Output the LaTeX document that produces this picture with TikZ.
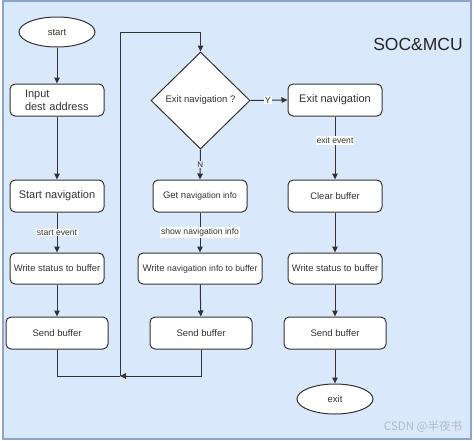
\documentclass[tikz,border=0pt]{standalone}
\usepackage{fontspec}
\setmainfont{Liberation Sans}
\newfontfamily\cjkfont{Noto Sans CJK SC}
\usetikzlibrary{shapes.geometric,arrows.meta}
\definecolor{bgblue}{HTML}{DAE8FC}
\definecolor{bgborder}{HTML}{8EA5C9}
\definecolor{ink}{HTML}{333333}
\definecolor{wmark}{HTML}{B3BAC6}
\newcommand\fsz[1]{\fontsize{#1}{#1}\selectfont}
\tikzset{
  x=1pt, y=-1pt,
  boxnode/.style={draw=ink, fill=white, rounded corners=5pt, line width=1pt,
    inner sep=0pt, text=ink, align=center},
  ovalnode/.style={draw=ink, fill=white, ellipse, line width=1pt, inner sep=0pt,
    minimum width=76pt, minimum height=30pt, text=ink, font=\fsz{9.5}},
  decnode/.style={draw=ink, fill=white, diamond, line width=1pt, inner sep=0pt,
    minimum width=99pt, minimum height=97pt, text=ink, font=\fsz{9.5}},
  conn/.style={draw=ink, line width=1pt},
  arr/.style={conn, -{Triangle[length=6pt,width=5.5pt]}},
  lbl/.style={fill=white, inner sep=1pt, text=ink, font=\fsz{8.6}},
}
\begin{document}
\begin{tikzpicture}
\useasboundingbox (0,0) rectangle (474,440);
\fill[white] (0,0) rectangle (474,440);
\draw[fill=bgblue, draw=bgborder, line width=2pt] (2.5,1) rectangle (470.5,438.5);

% left column
\node[ovalnode] (start) at (57,32) {start};
\node[boxnode, minimum width=94pt, minimum height=32pt, text width=64pt, inner xsep=15pt, align=left,
  font=\fontsize{11}{13}\selectfont] (inp) at (57,100) {Input\\dest address};
\node[boxnode, minimum width=94pt, minimum height=32pt, font=\fsz{11}] (sn) at (57,196) {Start navigation};
\node[boxnode, minimum width=94pt, minimum height=31pt, font=\fsz{9.4}] (ws1) at (57,268.5) {Write status to buffer};
\node[boxnode, minimum width=102pt, minimum height=32pt, font=\fsz{9.5}] (sb1) at (57,333) {Send buffer};

% middle column
\node[decnode] (dia) at (200.5,100.5) {Exit navigation ?};
\node[boxnode, minimum width=94pt, minimum height=32pt] (gni) at (200,196) {\fsz{9.5}Get n\fsz{8.6}avigation info};
\node[boxnode, minimum width=124pt, minimum height=31pt] (wni) at (200,268.5) {\fsz{9.5}Write \fsz{8.7}navigation info to buffer};
\node[boxnode, minimum width=102pt, minimum height=32pt, font=\fsz{9.5}] (sb2) at (201,333) {Send buffer};

% right column
\node[boxnode, minimum width=94pt, minimum height=32pt, font=\fsz{11}] (en) at (335,100) {Exit navigation};
\node[boxnode, minimum width=94pt, minimum height=32pt, font=\fsz{9.5}] (cb) at (335,196) {Clear buffer};
\node[boxnode, minimum width=94pt, minimum height=31pt, font=\fsz{9.4}] (ws3) at (335,268.5) {Write status to buffer};
\node[boxnode, minimum width=102pt, minimum height=32pt, font=\fsz{9.5}] (sb3) at (335,333) {Send buffer};
\node[ovalnode] (exit) at (335,399) {exit};

% title and watermark
\node[text=black!85, font=\fsz{17.5}, inner sep=0pt] (title) at (418,44) {SOC\&MCU};
\node[text=wmark, font=\cjkfont\fsz{11.5}, inner sep=0pt] (wm) at (423,427) {CSDN @半夜书};

% loop coordinates
\coordinate (j) at (120,376);
\coordinate (t) at (120,32);

% connectors
\draw[arr] (start) -- (inp);
\draw[arr] (inp) -- (sn);
\draw[arr] (sn) -- node[lbl] (lse) {start event} (ws1);
\draw[arr] (ws1) -- (sb1);
\draw[conn] (sb1.south) |- (j);
\draw[arr] (sb2.south) |- (j);
\draw[arr] (j) -- (t) -| (dia.north);

\draw[arr] (dia.east) -- node[lbl, font=\fsz{9}, pos=0.47] (ly) {Y} (en.west);
\draw[arr] (dia.south) -- node[lbl, font=\fsz{8}, pos=0.5, fill=bgblue] (ln) {N} (gni.north);
\draw[arr] (gni) -- node[lbl] (lsn) {show navigation info} (wni);
\draw[arr] (wni) -- (sb2);

\draw[arr] (en) -- node[lbl, pos=0.38] (lee) {exit event} (cb);
\draw[arr] (cb) -- (ws3);
\draw[arr] (ws3) -- (sb3);
\draw[arr] (sb3) -- (exit);
\end{tikzpicture}
\end{document}
